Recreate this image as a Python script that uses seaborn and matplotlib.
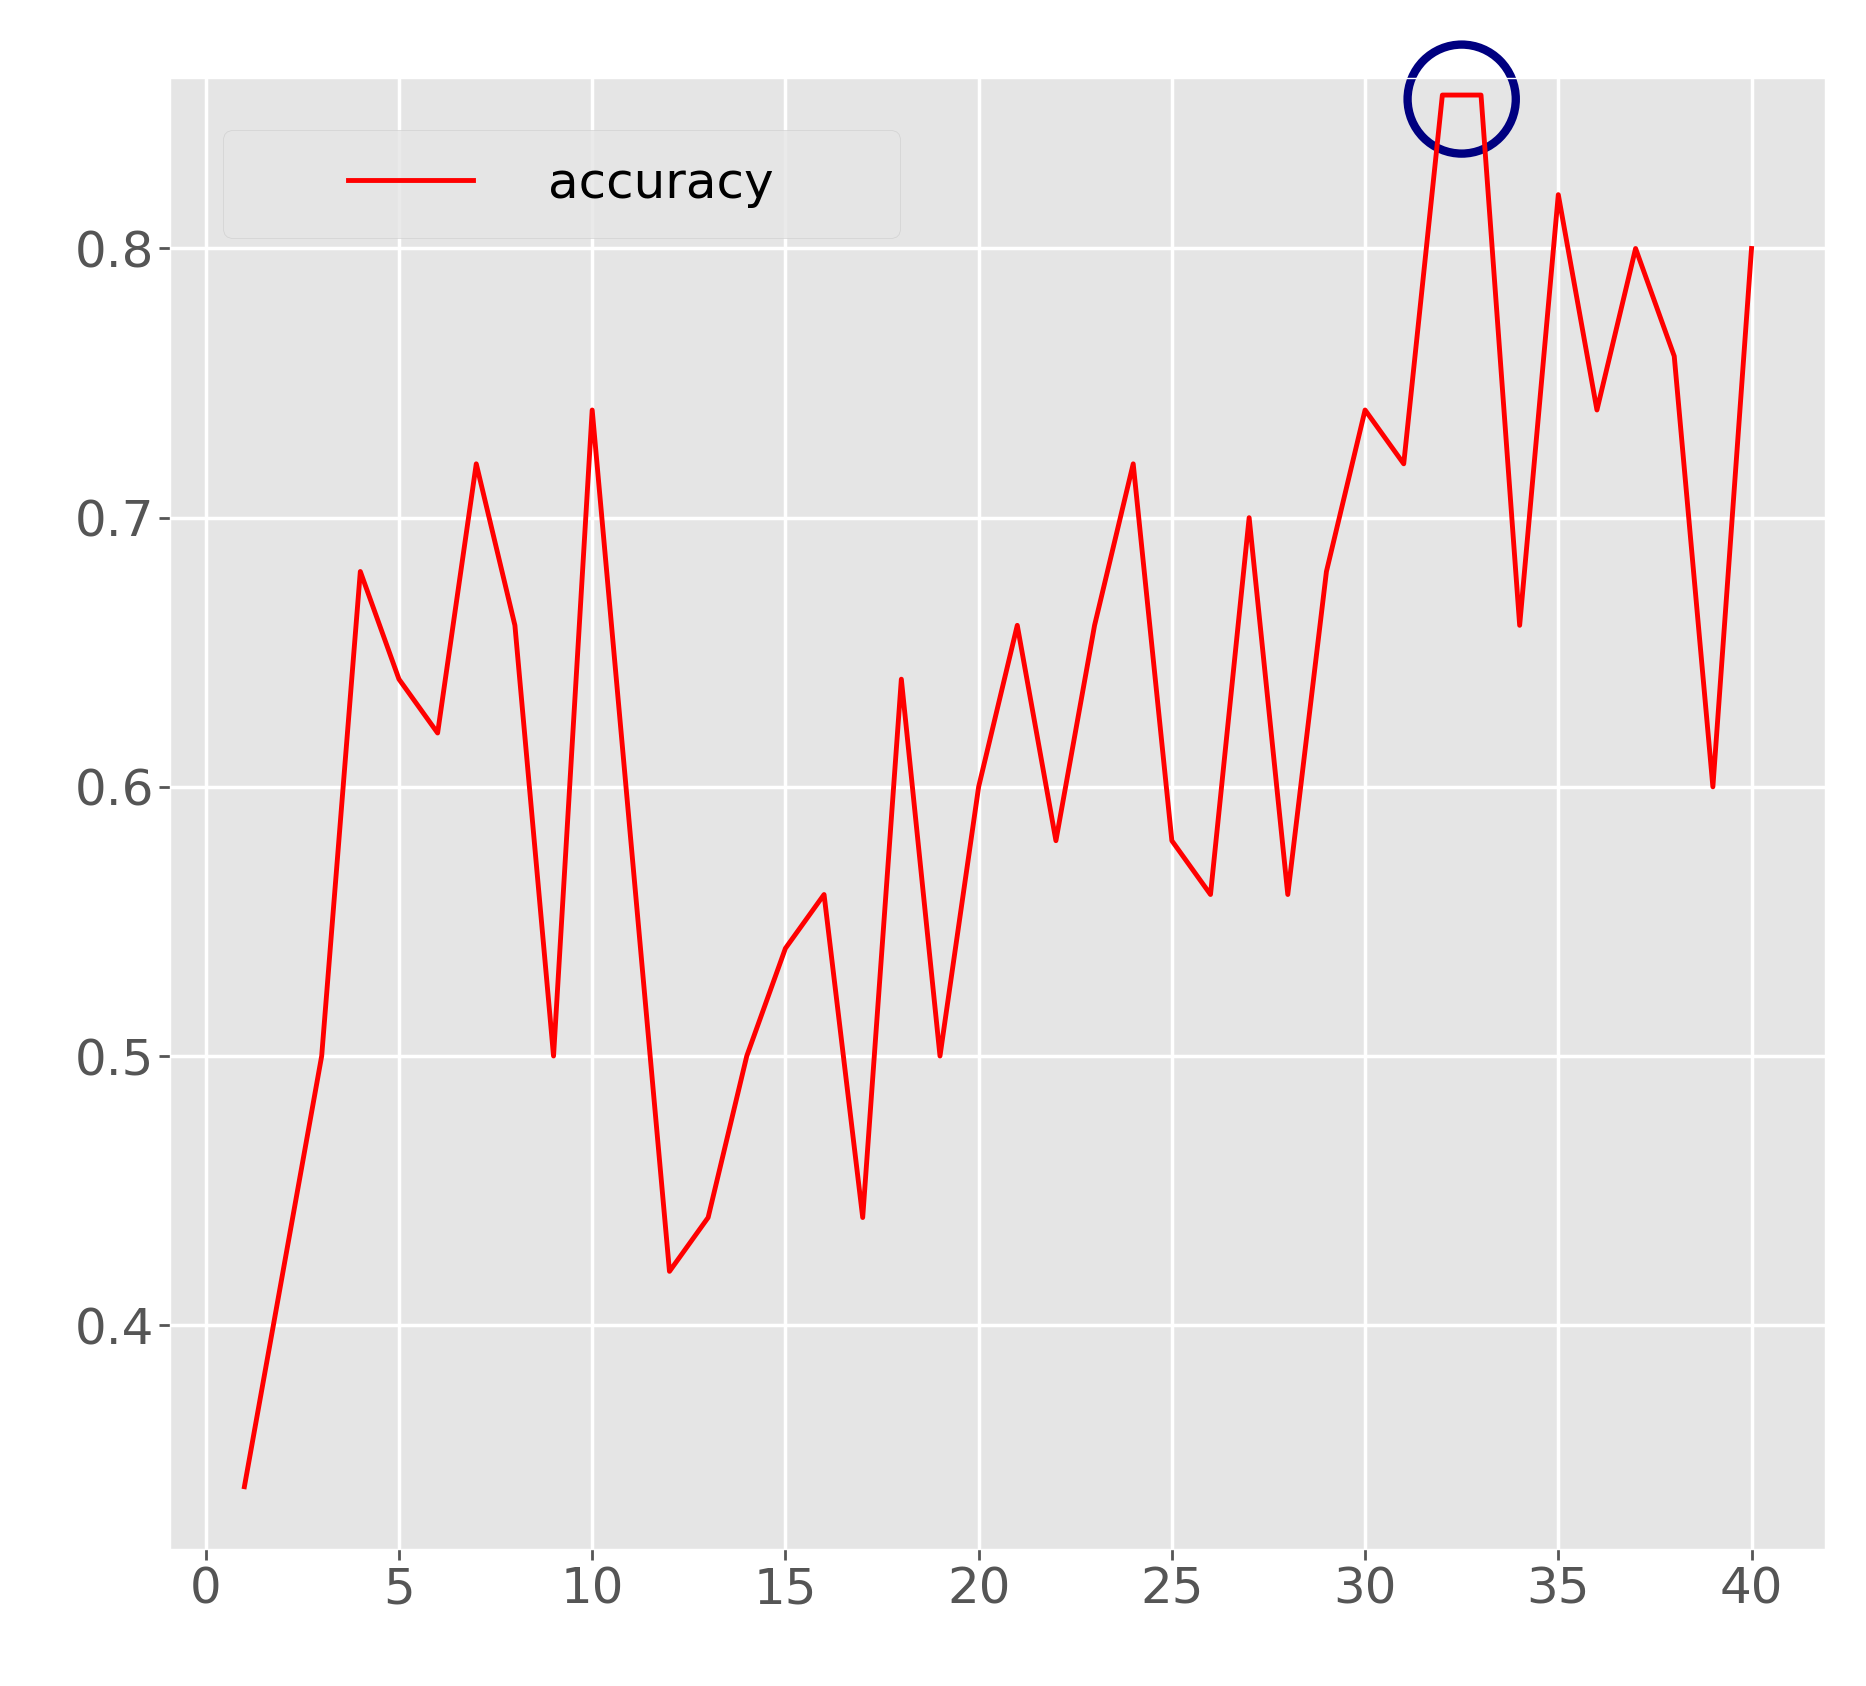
import matplotlib
matplotlib.use("Agg")
import matplotlib.pyplot as plt
import seaborn as sns
import pandas as pd
from matplotlib.patches import Ellipse

epochs = list(range(1, 41))
accuracy = [0.34, 0.42, 0.50, 0.68, 0.64, 0.62, 0.72, 0.66, 0.50, 0.74,
            0.58, 0.42, 0.44, 0.50, 0.54, 0.56, 0.44, 0.64, 0.50, 0.60,
            0.66, 0.58, 0.66, 0.72, 0.58, 0.56, 0.70, 0.56, 0.68, 0.74,
            0.72, 0.857, 0.857, 0.66, 0.82, 0.74, 0.80, 0.76, 0.60, 0.80]

df = pd.DataFrame({"epoch": epochs, "accuracy": accuracy})

plt.style.use("ggplot")
fig = plt.figure(figsize=(18.66, 16.86), dpi=100)
ax = fig.add_axes([0.091, 0.081, 0.887, 0.873])
sns.lineplot(data=df, x="epoch", y="accuracy", color="red", linewidth=3.5, label="accuracy", ax=ax)

ax.set_xlim(-0.93, 41.9)
ax.set_ylim(0.3167, 0.8635)
ax.set_xticks(range(0, 41, 5))
ax.set_yticks([0.4, 0.5, 0.6, 0.7, 0.8])
ax.set_xlabel("")
ax.set_ylabel("")
ax.tick_params(labelsize=36, colors="#555555", length=8, width=2)
for lab in ax.get_xticklabels() + ax.get_yticklabels():
    lab.set_color("#555555")
ax.grid(color="white", linewidth=2.5)

leg = ax.legend(loc="upper left", fontsize=36, frameon=True, handlelength=2.5,
                borderpad=0.6, handletextpad=1.5, borderaxespad=0.6)
for line in leg.get_lines():
    line.set_linewidth(3.5)
fig.canvas.draw()
# shift legend contents right inside a wider frame, like the reference
leg._legend_box.align = "center"
leg.set_bbox_to_anchor((0.014, 0.985, 0.445, 0), transform=ax.transAxes)
leg._mode = "expand"

# highlight marker around the peak
ax.add_patch(Ellipse((32.5, 0.8555), width=2.8, height=0.0405, fill=False,
                     edgecolor="#000080", linewidth=6, clip_on=False))

fig.savefig("out.png", dpi=100)
